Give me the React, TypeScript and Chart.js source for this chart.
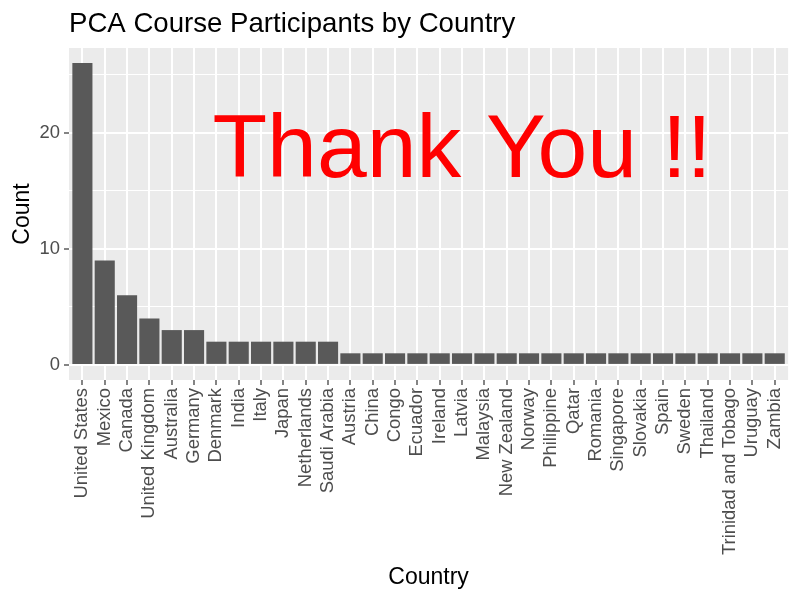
import React, { useEffect, useRef } from "react";
import { Chart, registerables } from "chart.js";

Chart.register(...registerables);

const countries = [
  "United States", "Mexico", "Canada", "United Kingdom", "Australia", "Germany",
  "Denmark", "India", "Italy", "Japan", "Netherlands", "Saudi Arabia",
  "Austria", "China", "Congo", "Ecuador", "Ireland", "Latvia", "Malaysia",
  "New Zealand", "Norway", "Philippine", "Qatar", "Romania", "Singapore",
  "Slovakia", "Spain", "Sweden", "Thailand", "Trinidad and Tobago", "Uruguay", "Zambia",
];
const counts = [
  26, 9, 6, 4, 3, 3,
  2, 2, 2, 2, 2, 2,
  1, 1, 1, 1, 1, 1, 1,
  1, 1, 1, 1, 1, 1,
  1, 1, 1, 1, 1, 1, 1,
];
const yTicks = [0, 5, 10, 15, 20, 25];
const yLabelled = [0, 10, 20];

const TITLE = "PCA Course Participants by Country";
const X_TITLE = "Country";
const Y_TITLE = "Count";
const ANNOT_TEXT = "Thank You !!";
const ANNOT_X = 17;
const ANNOT_Y = 19;

const FONT = "'Liberation Sans', Arial, Helvetica, sans-serif";

export default function App() {
  const ref = useRef<HTMLCanvasElement>(null);

  useEffect(() => {
    if (!ref.current) return;
    const ggPlugin = {
      id: "ggDecor",
      beforeDraw(chart: any) {
        const { ctx, chartArea: a } = chart;
        ctx.save();
        ctx.fillStyle = "#FFFFFF";
        ctx.fillRect(0, 0, chart.width, chart.height);
        ctx.fillStyle = "#EBEBEB";
        ctx.fillRect(a.left, a.top, a.right - a.left, a.bottom - a.top);
        ctx.restore();
      },
      afterDraw(chart: any) {
        const { ctx, chartArea: a } = chart;
        const xs = chart.scales.x;
        const ys = chart.scales.y;
        ctx.save();
        ctx.fillStyle = "#000000";
        ctx.font = `27.6px ${FONT}`;
        ctx.textAlign = "left";
        ctx.textBaseline = "alphabetic";
        ctx.fillText(TITLE, a.left, 32);
        ctx.font = `23px ${FONT}`;
        ctx.textAlign = "center";
        ctx.fillText(X_TITLE, (a.left + a.right) / 2, 584);
        ctx.save();
        ctx.translate(29, (a.top + a.bottom) / 2);
        ctx.rotate(-Math.PI / 2);
        ctx.textAlign = "center";
        ctx.fillText(Y_TITLE, 0, 0);
        ctx.restore();
        ctx.font = `89.5px ${FONT}`;
        ctx.fillStyle = "#FF0000";
        ctx.textAlign = "center";
        const m = ctx.measureText(ANNOT_TEXT);
        const cap = m.actualBoundingBoxAscent;
        const cx = xs.getPixelForValue(ANNOT_X);
        const cy = ys.getPixelForValue(ANNOT_Y);
        ctx.fillText(ANNOT_TEXT, cx, cy + cap / 2);
        ctx.restore();
      },
    };

    const chart = new Chart(ref.current, {
      type: "bar",
      data: {
        datasets: [
          {
            data: counts.map((v, i) => ({ x: i, y: v })),
            backgroundColor: "#595959",
            borderWidth: 0,
            barPercentage: 0.9,
            categoryPercentage: 1,
          },
        ],
      },
      options: {
        animation: false,
        responsive: false,
        layout: { padding: { top: 48, right: 11, left: 0, bottom: 0 } },
        plugins: {
          legend: { display: false },
          tooltip: { enabled: false },
          title: { display: false },
        },
        scales: {
          x: {
            type: "linear",
            offset: false,
            min: -0.6,
            max: countries.length - 0.4,
            afterBuildTicks: (s: any) => {
              s.ticks = countries.map((_, i) => ({ value: i }));
            },
            afterFit: (s: any) => {
              s.height = 220;
            },
            ticks: {
              autoSkip: false,
              minRotation: 90,
              maxRotation: 90,
              padding: 3,
              color: "#4D4D4D",
              font: { family: FONT, size: 18.4 },
              callback: (v: any) => countries[Math.round(Number(v))] ?? "",
            },
            grid: {
              offset: false,
              color: "#FFFFFF",
              lineWidth: 2,
              tickColor: "#333333",
              tickLength: 5,
              tickWidth: 1.2,
            },
            border: { display: false },
          },
          y: {
            type: "linear",
            min: -1.3,
            max: 27.3,
            afterBuildTicks: (s: any) => {
              s.ticks = yTicks.map((v) => ({ value: v }));
            },
            afterFit: (s: any) => {
              s.width = 69;
            },
            ticks: {
              padding: 4,
              color: "#4D4D4D",
              font: { family: FONT, size: 18.4 },
              callback: (v: any) => (yLabelled.includes(Number(v)) ? String(v) : ""),
            },
            grid: {
              color: "#FFFFFF",
              lineWidth: (c: any) => (c.tick && yLabelled.includes(c.tick.value) ? 2 : 1),
              tickColor: (c: any) =>
                c.tick && yLabelled.includes(c.tick.value) ? "#333333" : "rgba(0,0,0,0)",
              tickLength: 5,
              tickWidth: 1.2,
            },
            border: { display: false },
          },
        },
      },
      plugins: [ggPlugin],
    } as any);

    return () => chart.destroy();
  }, []);

  return (
    <div style={{ position: "absolute", left: 0, top: 0, width: 800, height: 600, background: "#fff" }}>
      <canvas ref={ref} width={800} height={600} style={{ display: "block" }} />
    </div>
  );
}
